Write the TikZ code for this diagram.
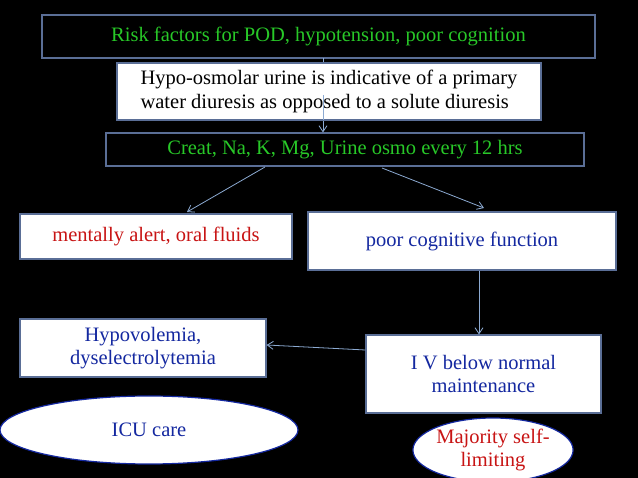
\documentclass[tikz,border=0pt]{standalone}
\usepackage{fontspec}
\setmainfont{Liberation Serif}
\usetikzlibrary{arrows.meta,shapes.geometric}
\definecolor{grn}{RGB}{40,200,40}
\definecolor{bl}{RGB}{20,40,160}
\definecolor{rd}{RGB}{200,20,20}
\definecolor{edge}{RGB}{90,110,150}
\definecolor{arr}{RGB}{140,170,210}
\begin{document}
\begin{tikzpicture}[x=1pt,y=-1pt,
  txt/.style={font=\rmfamily\fontsize{20.5}{23}\selectfont},
  darkbox/.style={draw=edge,line width=1.2pt,fill=black,txt,text=grn},
  wbox/.style={draw=edge,line width=1.2pt,fill=white,txt},
  con/.style={draw=arr,line width=0.8pt,-{Straight Barb[length=6pt,width=8pt]}}]
\fill[black] (0,0) rectangle (638,478);
\useasboundingbox (0,0) rectangle (638,478);
\node[darkbox,minimum width=553,minimum height=43] (risk) at (318.5,36.5) {Risk factors for POD, hypotension, poor cognition};
\node[darkbox,minimum width=478,minimum height=33] (creat) at (345,149.5) {Creat, Na, K, Mg, Urine osmo every 12 hrs};
\draw[con] (323,58) -- (creat.north -| 323,0);
\node[wbox,text=black,minimum width=424,minimum height=57,align=left,inner xsep=2pt,font=\rmfamily\fontsize{20.5}{24}\selectfont] (hypo) at (329,91.5) {Hypo-osmolar urine is indicative of a primary\\water diuresis as opposed to a solute diuresis};
\draw[draw=arr,line width=0.8pt] (323,95) -- (323,120);
\node[wbox,text=rd,minimum width=272,minimum height=45] (alert) at (156,236.5) {mentally alert, oral fluids\hspace{14pt}};
\node[wbox,text=bl,minimum width=308,minimum height=58] (poor) at (462,241) {poor cognitive function};
\node[wbox,text=bl,minimum width=246,minimum height=58,align=center] (hv) at (143,348) {Hypovolemia,\\dyselectrolytemia};
\node[wbox,text=bl,minimum width=235,minimum height=78,align=center] (iv) at (483.5,374) {I V below normal\\maintenance};
\node[ellipse,draw=bl,line width=1.2pt,fill=white,txt,text=bl,minimum width=298,minimum height=68] (icu) at (149,430) {ICU care};
\node[ellipse,draw=bl,line width=1.2pt,fill=white,txt,text=rd,minimum width=152,minimum height=64,align=center,inner sep=0pt] (maj) at (493,450) {Majority self-\\limiting};
\draw[con] (265,167) -- (187,212);
\draw[con] (382,168) -- (484,208);
\draw[con] (poor.south -| 479,0) -- (iv.north -| 479,0);
\draw[con] (iv.west |- 0,350) -- (hv.east |- 0,345);
\end{tikzpicture}
\end{document}
